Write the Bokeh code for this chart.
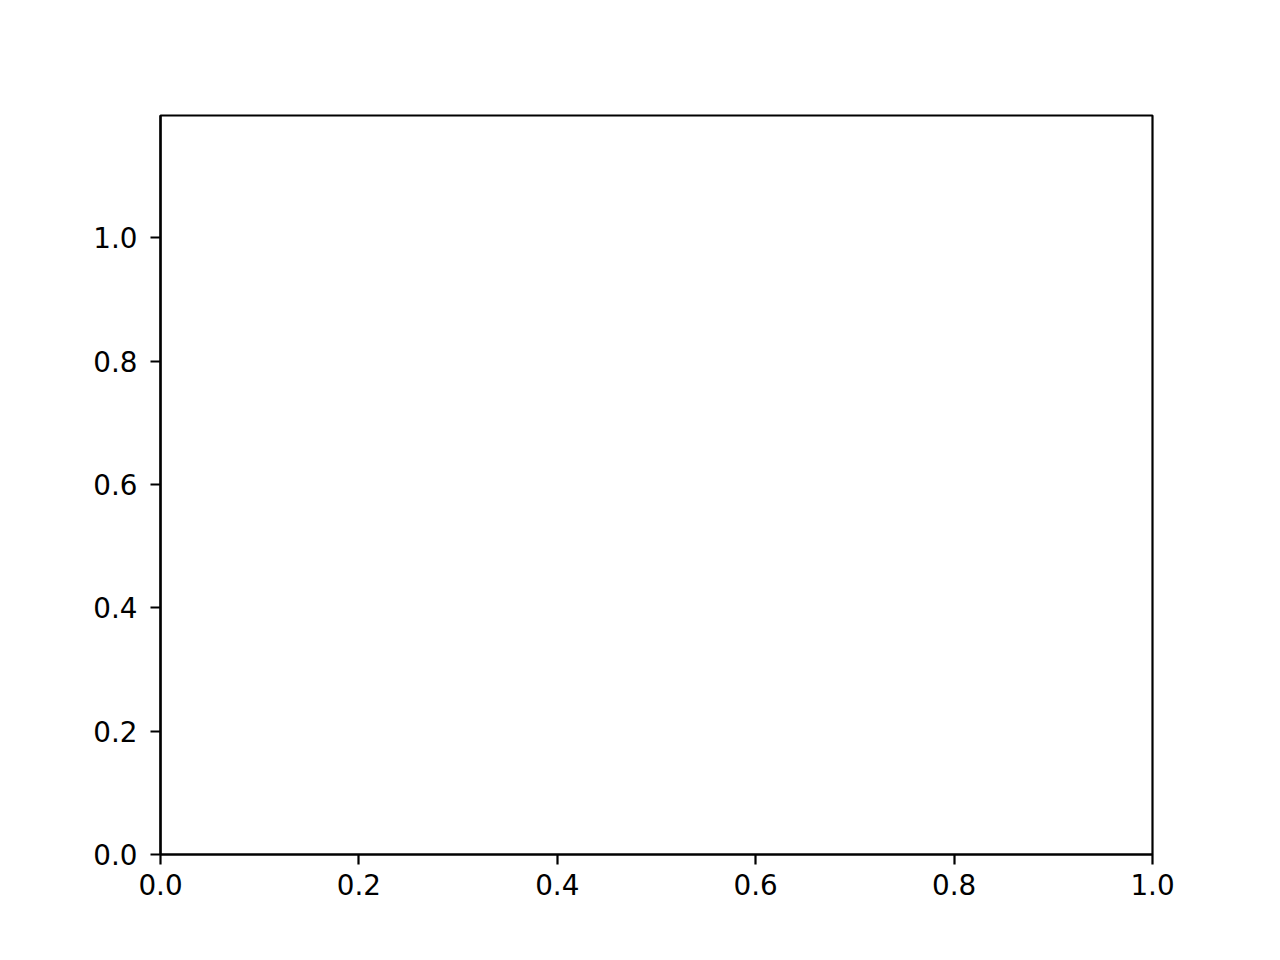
from bokeh.plotting import figure
from bokeh.models import Range1d, FixedTicker, PrintfTickFormatter
from bokeh.embed import file_html
from bokeh.resources import INLINE

# Axis limits and tick labels (empty axes, no data series)
x_limits = [0.0, 1.0]
y_limits = [0.0, 1.198]
x_ticks = [0.0, 0.2, 0.4, 0.6, 0.8, 1.0]
y_ticks = [0.0, 0.2, 0.4, 0.6, 0.8, 1.0]

p = figure(
    output_backend="svg",
    toolbar_location=None,
    frame_width=992,
    frame_height=739,
    min_border_left=160,
    min_border_top=115,
    min_border_right=100,
    min_border_bottom=80,
    x_range=Range1d(x_limits[0], x_limits[1]),
    y_range=Range1d(y_limits[0], y_limits[1]),
    background_fill_color="white",
    border_fill_color="white",
)

p.xgrid.visible = False
p.ygrid.visible = False
p.outline_line_color = "black"
p.outline_line_width = 2.2

for ax, ticks in ((p.xaxis[0], x_ticks), (p.yaxis[0], y_ticks)):
    ax.ticker = FixedTicker(ticks=ticks)
    ax.formatter = PrintfTickFormatter(format="%.1f")
    ax.minor_tick_line_color = None
    ax.major_tick_in = 0
    ax.major_tick_out = 10
    ax.major_tick_line_width = 2.2
    ax.major_tick_line_color = "black"
    ax.axis_line_color = "black"
    ax.axis_line_width = 2.2
    ax.major_label_text_font = "DejaVu Sans"
    ax.major_label_text_font_size = "27.8px"
    ax.major_label_text_color = "black"

p.xaxis[0].major_label_standoff = 9
p.yaxis[0].major_label_standoff = 13

open("out.html", "w").write(file_html(p, INLINE))
